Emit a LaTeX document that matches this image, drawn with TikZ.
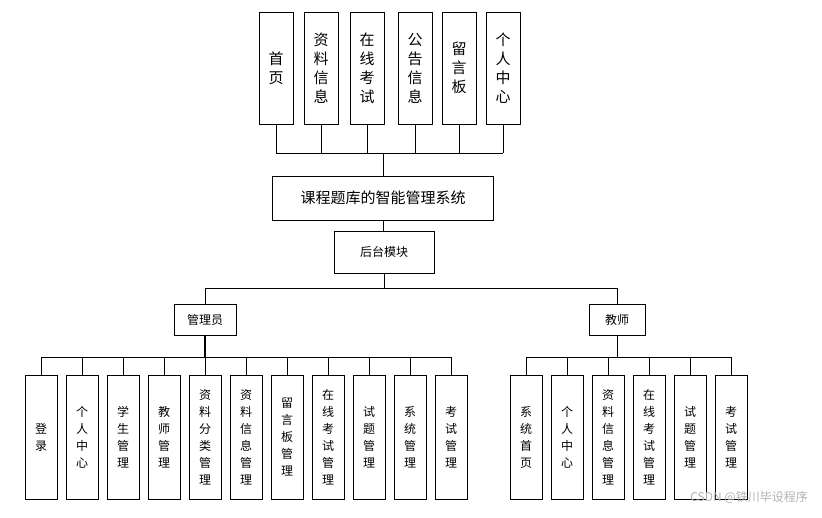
\documentclass[tikz,border=0pt]{standalone}
\usepackage{fontspec}
\setmainfont{Noto Sans CJK SC}
\begin{document}
\begin{tikzpicture}[x=1pt,y=-1pt,
  topbox/.style={draw,line width=0.9pt,minimum width=34pt,minimum height=112pt,inner sep=0pt,align=center,font=\fontsize{15}{19}\selectfont},
  lowbox/.style={draw,line width=0.9pt,minimum width=32pt,minimum height=124pt,inner sep=0pt,align=center,font=\fontsize{12}{17}\selectfont},
  midbox/.style={draw,line width=0.9pt,inner sep=0pt,align=center},
  ln/.style={line width=0.9pt}]
\useasboundingbox (0,0) rectangle (822,517);
% top
\foreach \n/\x/\t in {t1/276/首\\页, t2/321/资\\料\\信\\息, t3/367/在\\线\\考\\试, t4/415/公\\告\\信\\息, t5/459/留\\言\\板, t6/503/个\\人\\中\\心}
  \node[topbox] (\n) at (\x,68) {\t};
\node[midbox,minimum width=221pt,minimum height=44pt,font=\fontsize{15}{18}\selectfont] (main) at (383,198) {课程题库的智能管理系统};
\node[midbox,minimum width=100pt,minimum height=42pt,font=\fontsize{12}{15}\selectfont] (bk) at (384,252) {后台模块};
\coordinate (tb) at (383,153);
\foreach \n in {t1,t2,t3,t4,t5,t6} \draw[ln] (\n.south) -- (\n.south |- tb);
\draw[ln] (t1.south |- tb) -- (t6.south |- tb);
\draw[ln] (tb) -- (main.north);
\draw[ln] (main.south) -- (main.south |- bk.north);
\node[midbox,minimum width=62pt,minimum height=31pt,font=\fontsize{12}{15}\selectfont] (adm) at (205,320) {管理员};
\node[midbox,minimum width=56pt,minimum height=31pt,font=\fontsize{12}{15}\selectfont] (tea) at (617,320) {教师};
\coordinate (mb) at (384,288);
\draw[ln] (bk.south) -- (mb);
\draw[ln] (adm.north) -- (adm.north |- mb) -- (tea.north |- mb) -- (tea.north);
% admin children
\coordinate (ab) at (205,357);
\foreach \n/\x/\t in {a1/41/登\\录, a2/82/个\\人\\中\\心, a3/123/学\\生\\管\\理, a4/164/教\\师\\管\\理, a5/205/资\\料\\分\\类\\管\\理, a6/246/资\\料\\信\\息\\管\\理, a7/287/留\\言\\板\\管\\理, a8/328/在\\线\\考\\试\\管\\理, a9/369/试\\题\\管\\理, a10/410/系\\统\\管\\理, a11/451/考\\试\\管\\理}
  {\node[lowbox] (\n) at (\x,437) {\t};
   \draw[ln] (\n.north) -- (\n.north |- ab);}
\draw[ln] (a1.north |- ab) -- (a11.north |- ab);
\draw[line width=1.6pt] (adm.south) -- (ab);
% teacher children
\coordinate (tcb) at (617,357);
\foreach \n/\x/\t in {b1/526/系\\统\\首\\页, b2/567/个\\人\\中\\心, b3/608/资\\料\\信\\息\\管\\理, b4/649/在\\线\\考\\试\\管\\理, b5/690/试\\题\\管\\理, b6/731/考\\试\\管\\理}
  {\node[lowbox] (\n) at (\x,437) {\t};
   \draw[ln] (\n.north) -- (\n.north |- tcb);}
\draw[ln] (b1.north |- tcb) -- (b6.north |- tcb);
\draw[ln] (tea.south) -- (tcb);
\node[text=gray!60,font=\fontsize{12}{14}\selectfont,anchor=east,inner sep=0pt] (wm) at (808,497) {CSDN @铁川毕设程序};
\end{tikzpicture}
\end{document}
